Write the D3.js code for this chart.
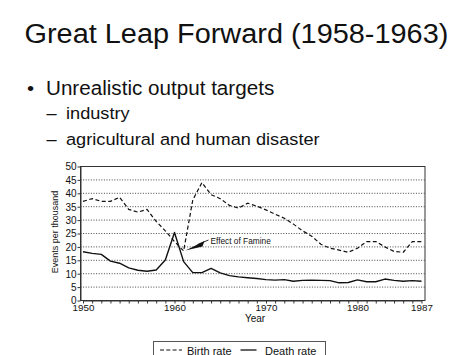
<!DOCTYPE html>
<html>
<head>
<meta charset="utf-8">
<script src="https://cdn.jsdelivr.net/npm/d3@7"></script>
<style>
  html, body { margin: 0; padding: 0; background: #fff; }
  svg { display: block; font-family: "Liberation Sans", Arial, Helvetica, sans-serif; }
</style>
</head>
<body>
<svg id="chart" width="474" height="355"></svg>
<script>
// ---- data ----
const years = d3.range(1950, 1988);
const birthRate = [37, 38, 37, 37, 38.5, 34, 33, 34, 29.5, 26, 22, 18.5,
  37.5, 44, 39.5, 38, 35.5, 34.5, 36.3, 35.2, 33.8, 32.2, 30.7, 28.5, 26, 24,
  21, 19.5, 18.8, 18, 19.5, 22, 22, 20, 18.3, 18, 22, 22];
const deathRate = [18.2, 17.6, 17.2, 14.7, 13.9, 12.2, 11.3, 10.9, 11.4, 15.1, 25.4, 14.5,
  10.4, 10.4, 12, 10.3, 9.3, 8.8, 8.5, 8.2, 7.8, 7.6, 7.8, 7.2, 7.5, 7.6,
  7.5, 7.4, 6.6, 6.7, 7.7, 7.0, 7.0, 8.0, 7.5, 7.2, 7.4, 7.2];
const yTicks = [0, 5, 10, 15, 20, 25, 30, 35, 40, 45, 50];
const xLabels = [1950, 1960, 1970, 1980, 1987];
const seriesNames = ["Birth rate", "Death rate"];
const titleText = "Great Leap Forward (1958-1963)";
const bullets = ["Unrealistic output targets"];
const subBullets = ["industry", "agricultural and human disaster"];
const annotation = { text: "Effect of Famine", year: 1961.2, value: 18.7 };

const svg = d3.select("#chart");
const ink = "#111";

// ---- slide text ----
svg.append("text").attr("x", 0).attr("y", 0)
  .attr("transform", "translate(24.5,42.5) scale(1.07,1)")
  .attr("font-size", 27).attr("fill", ink).text(titleText);

svg.append("text").attr("transform", "translate(27,95) scale(1.07,1)")
  .attr("font-size", 19).attr("fill", ink).text("\u2022");
bullets.forEach((b, i) => {
  svg.append("text").attr("transform", `translate(46,${95 + i * 24}) scale(1.07,1)`)
    .attr("font-size", 19.3).attr("fill", ink).text(b);
});
subBullets.forEach((b, i) => {
  const yb = 119.3 + i * 25.3;
  svg.append("text").attr("transform", `translate(46.5,${yb}) scale(1.07,1)`)
    .attr("font-size", 17).attr("fill", ink).text("\u2013");
  svg.append("text").attr("transform", `translate(66,${yb}) scale(1.07,1)`)
    .attr("font-size", 17).attr("fill", ink).text(b);
});

// ---- chart ----
const x = d3.scaleLinear().domain([1950, 1987]).range([83, 421.5]);
const y = d3.scaleLinear().domain([0, 50]).range([300.5, 166.5]);
const frameL = 80.5, frameR = 425;

// gridlines
svg.append("g").selectAll("line").data(yTicks.filter(v => v > 0 && v < 50)).join("line")
  .attr("x1", frameL).attr("x2", frameR)
  .attr("y1", d => y(d)).attr("y2", d => y(d))
  .attr("stroke", "#333").attr("stroke-width", 0.9)
  .attr("stroke-dasharray", "1,1.6");

// frame
svg.append("rect").attr("x", frameL).attr("y", y(50))
  .attr("width", frameR - frameL).attr("height", y(0) - y(50))
  .attr("fill", "none").attr("stroke", "#333").attr("stroke-width", 1);

// x axis
const xAxis = svg.append("g").attr("transform", `translate(0,${y(0)})`)
  .call(d3.axisBottom(x).tickValues(years).tickSize(3).tickSizeOuter(0)
    .tickFormat(d => xLabels.includes(d) ? String(d) : ""));
xAxis.select(".domain").attr("stroke", "#333");
xAxis.selectAll(".tick line").attr("stroke", "#333");
xAxis.selectAll(".tick text").attr("y", 10.5).attr("dy", 0)
  .attr("font-size", 9.8).attr("fill", ink)
  .attr("font-family", "'Liberation Sans', Arial, sans-serif");

// y axis
const yAxis = svg.append("g").attr("transform", `translate(${frameL},0)`)
  .call(d3.axisLeft(y).tickValues(yTicks).tickSize(3).tickSizeOuter(0));
yAxis.select(".domain").attr("stroke", "#333");
yAxis.selectAll(".tick line").attr("stroke", "#333");
yAxis.selectAll(".tick text").attr("x", -4).attr("dy", "0.34em")
  .attr("font-size", 10).attr("fill", ink)
  .attr("font-family", "'Liberation Sans', Arial, sans-serif");

// axis titles
svg.append("text").attr("x", 255).attr("y", 321.5).attr("text-anchor", "middle")
  .attr("font-size", 10).attr("fill", ink).text("Year");
svg.append("text").attr("transform", "translate(58,232) rotate(-90)")
  .attr("text-anchor", "middle").attr("font-size", 9).attr("fill", ink)
  .text("Events per thousand");

// lines
const line = d3.line().x((d, i) => x(years[i])).y(d => y(d));
svg.append("path").datum(birthRate).attr("d", line)
  .attr("fill", "none").attr("stroke", ink).attr("stroke-width", 1.2)
  .attr("stroke-dasharray", "4,2.5");
svg.append("path").datum(deathRate).attr("d", line)
  .attr("fill", "none").attr("stroke", ink).attr("stroke-width", 1.4)
  .attr("stroke-linejoin", "round");

// annotation
const tipX = x(annotation.year), tipY = y(annotation.value);
const txtX = 210.5, txtY = 243.5;
svg.append("line").attr("x1", txtX - 2).attr("y1", txtY - 3.5)
  .attr("x2", tipX + 12).attr("y2", tipY - 5.8)
  .attr("stroke", ink).attr("stroke-width", 0.9);
svg.append("path")
  .attr("d", `M${tipX},${tipY} L${tipX + 19},${tipY - 9.5} L${tipX + 17},${tipY - 4} Z`)
  .attr("fill", ink);
svg.append("text").attr("x", txtX).attr("y", txtY)
  .attr("font-size", 8.3).attr("fill", ink).text(annotation.text);

// legend
const lg = svg.append("g");
lg.append("rect").attr("x", 153.5).attr("y", 341.5).attr("width", 172).attr("height", 22)
  .attr("fill", "#fff").attr("stroke", "#555").attr("stroke-width", 1);
lg.append("line").attr("x1", 160).attr("x2", 182).attr("y1", 350).attr("y2", 350)
  .attr("stroke", ink).attr("stroke-width", 1.1).attr("stroke-dasharray", "4,2.3");
lg.append("text").attr("x", 187).attr("y", 354.5).attr("font-size", 11).attr("fill", ink)
  .text(seriesNames[0]);
lg.append("line").attr("x1", 240.5).attr("x2", 256.5).attr("y1", 350).attr("y2", 350)
  .attr("stroke", ink).attr("stroke-width", 1.3);
lg.append("text").attr("x", 265).attr("y", 354.5).attr("font-size", 11).attr("fill", ink)
  .text(seriesNames[1]);
</script>
</body>
</html>
